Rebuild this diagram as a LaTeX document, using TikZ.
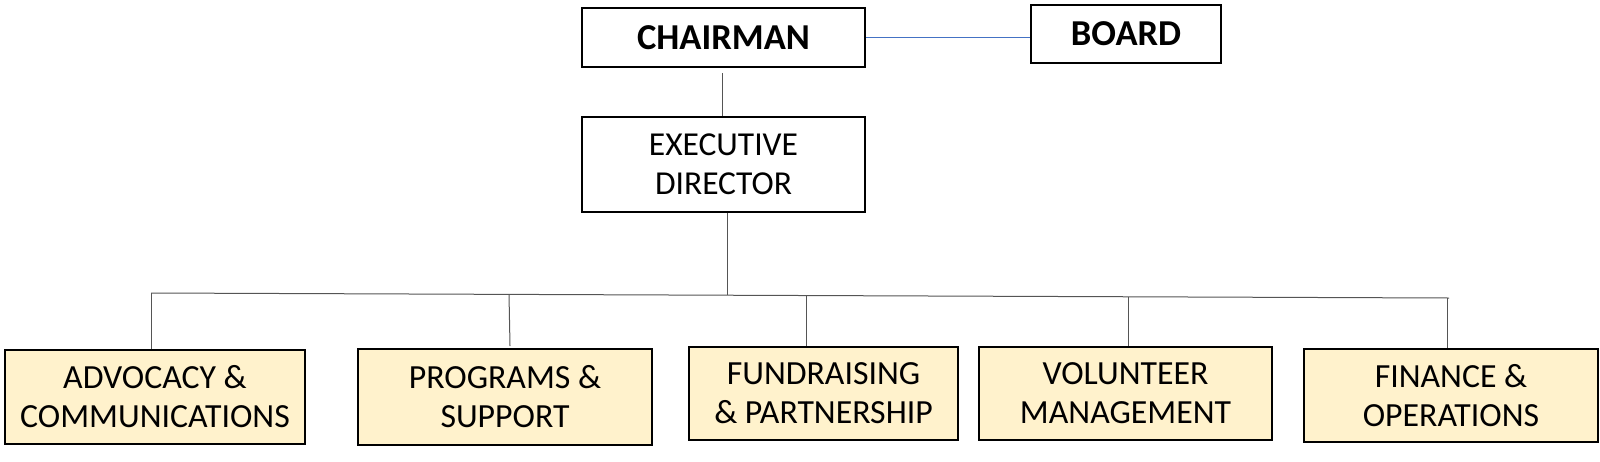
\documentclass[tikz,border=0pt]{standalone}
\usepackage{fontspec}
\setmainfont{Carlito}
\definecolor{boxfill}{HTML}{FFF2CC}
\definecolor{linkblue}{HTML}{4472C4}
\definecolor{busgray}{HTML}{555555}
\begin{document}
\begin{tikzpicture}[x=1pt,y=-1pt,
  topbox/.style={draw=black,line width=1.5pt,fill=white,inner sep=0pt,align=center,font=\fontsize{36.5}{40}\selectfont\bfseries},
  edbox/.style={draw=black,line width=1.5pt,fill=white,inner sep=0pt,align=center,font=\fontsize{33.5}{39}\selectfont},
  deptbox/.style={draw=black,line width=1.5pt,fill=boxfill,inner sep=0pt,align=center,font=\fontsize{33.8}{39}\selectfont},
  conn/.style={draw=busgray,line width=1pt}]
\useasboundingbox (0,0) rectangle (1600,461);
\node[topbox,minimum width=283pt,minimum height=59pt] (ch) at (723.5,37.5) {CHAIRMAN};
\node[topbox,minimum width=190pt,minimum height=58pt] (bd) at (1126,34) {BOARD};
\node[edbox,minimum width=283pt,minimum height=95pt] (ed) at (723.5,164.5) {EXECUTIVE\\DIRECTOR};
\node[deptbox,minimum width=300pt,minimum height=94pt] (adv) at (155,397) {ADVOCACY \&\\COMMUNICATIONS};
\node[deptbox,minimum width=294pt,minimum height=96pt] (prog) at (505,397) {PROGRAMS \&\\SUPPORT};
\node[deptbox,minimum width=269pt,minimum height=93pt] (fund) at (823.5,393.5) {FUNDRAISING\\\& PARTNERSHIP};
\node[deptbox,minimum width=293pt,minimum height=93pt] (vol) at (1125.5,393.5) {VOLUNTEER\\MANAGEMENT};
\node[deptbox,minimum width=294pt,minimum height=93pt] (fin) at (1451,395.5) {FINANCE \&\\OPERATIONS};
% connectors
\draw[linkblue,line width=1pt] (ch.east) -- (ch.east -| bd.west);
\coordinate (chdown) at (722,73);
\draw[conn] (chdown) -- (chdown |- ed.north);
\coordinate (edjoin) at (727,295.2);
\draw[conn] (ed.south -| edjoin) -- (edjoin);
\coordinate (busL) at (151,293);
\coordinate (busR) at (1449,298);
\draw[conn] (busL) -- (busR);
\coordinate (dA) at (151,293);
\coordinate (dB) at (509,294.4);
\coordinate (dC) at (806,295.5);
\coordinate (dD) at (1128,296.8);
\coordinate (dE) at (1447,298);
\draw[conn] (dA) -- (dA |- adv.north);
\draw[conn] (dB) -- (510,346);
\draw[conn] (dC) -- (dC |- fund.north);
\draw[conn] (dD) -- (dD |- vol.north);
\draw[conn] (dE) -- (dE |- fin.north);
\end{tikzpicture}
\end{document}
